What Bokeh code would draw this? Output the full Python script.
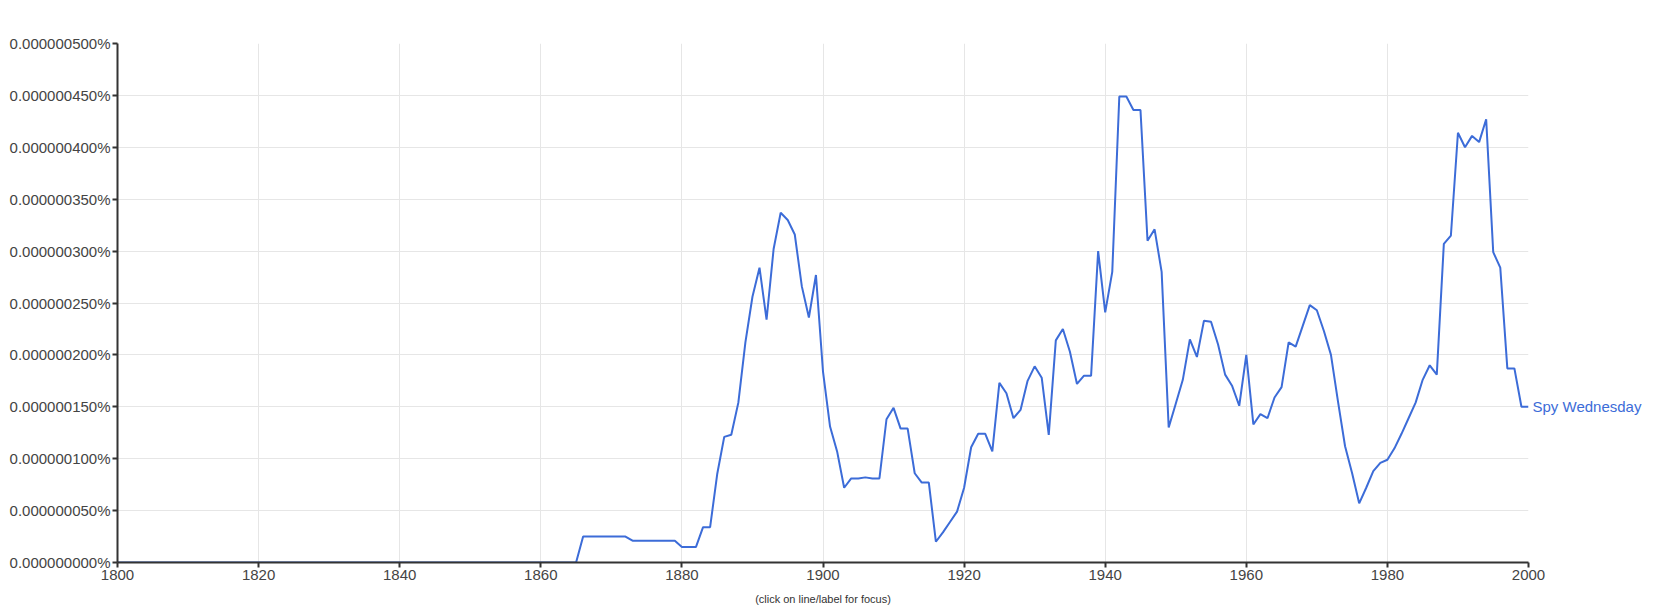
import json
from bokeh.plotting import figure
from bokeh.embed import file_html
from bokeh.resources import INLINE
from bokeh.models import CustomJSTickFormatter, FixedTicker, Title, Range1d, LinearAxis

series_name = "Spy Wednesday"

years = list(range(1800, 2001))

# values in units of 1e-9 percent (e.g. 450 -> 0.000000450%)
v_1800_1865 = [0] * 66
v_1866_1899 = [25, 25, 25, 25, 25, 25, 25, 21, 21, 21, 21, 21, 21, 21,
               15, 15, 15, 34, 34, 85, 121, 123, 154, 212, 256, 284, 234,
               302, 337, 330, 316, 266, 236, 277]
v_1900_1943 = [184, 131, 107, 72, 81, 81, 82, 81, 81, 138, 149, 129, 129,
               86, 77, 77, 20, 29, 39, 49, 72, 111, 124, 124, 107, 173, 163,
               139, 147, 175, 189, 178, 123, 214, 225, 203, 172, 180, 180,
               300, 241, 280, 449, 449]
v_1944_2000 = [436, 436, 310, 321, 280, 130, 153, 176, 215, 198, 233, 232,
               210, 181, 170, 151, 200, 133, 143, 139, 159, 169, 212, 208,
               228, 248, 243, 223, 200, 155, 112, 86, 57, 72, 88, 96, 99,
               110, 124, 139, 154, 176, 190, 181, 307, 315, 414, 400, 411,
               405, 427, 299, 284, 187, 187, 150, 150]

units = v_1800_1865 + v_1866_1899 + v_1900_1943 + v_1944_2000
values = [u * 1e-9 for u in units]  # percent

y_ticks = [i * 5e-8 for i in range(11)]
x_ticks = [1800, 1820, 1840, 1860, 1880, 1900, 1920, 1940, 1960, 1980, 2000]
footer = "(click on line/label for focus)"

LINE = "#3c6cd8"
TXT = "#444444"
FONT = "Liberation Sans"

p = figure(frame_width=1411, frame_height=519, output_backend="svg",
           toolbar_location=None,
           x_range=Range1d(1800, 2000), y_range=Range1d(0, 5e-7))
p.min_border_left = 117
p.min_border_right = 116
p.min_border_top = 43
p.min_border_bottom = 54
p.outline_line_color = None
p.background_fill_color = "white"
p.border_fill_color = "white"

p.line(years, values, line_color=LINE, line_width=2)

p.xaxis.ticker = FixedTicker(ticks=x_ticks)
p.yaxis.ticker = FixedTicker(ticks=y_ticks)
p.yaxis.formatter = CustomJSTickFormatter(code="return tick.toFixed(9) + '%';")
p.xaxis.formatter = CustomJSTickFormatter(code="return tick.toFixed(0);")
for ax in (p.xaxis, p.yaxis):
    ax.axis_line_color = "#333333"
    ax.axis_line_width = 2
    ax.major_tick_line_color = "#333333"
    ax.major_tick_line_width = 2
    ax.major_tick_out = 5
    ax.major_tick_in = 0
    ax.minor_tick_line_color = None
    ax.major_label_text_font = FONT
    ax.major_label_text_font_size = "15px"
    ax.major_label_text_color = TXT
p.yaxis.major_label_standoff = 2
p.xaxis.major_label_standoff = 2

p.xgrid.grid_line_color = "#e6e6e6"
p.ygrid.grid_line_color = "#e6e6e6"
p.xgrid.ticker = FixedTicker(ticks=x_ticks)
p.ygrid.ticker = FixedTicker(ticks=y_ticks)

# series name label at the end of the line (right side axis with one tick)
name_axis = LinearAxis(
    ticker=FixedTicker(ticks=[values[-1]]),
    formatter=CustomJSTickFormatter(code="return " + json.dumps(series_name) + ";"),
    axis_line_color=None, major_tick_line_color=None, minor_tick_line_color=None,
    major_tick_out=0, major_tick_in=0,
    major_label_standoff=4, major_label_text_color=LINE,
    major_label_text_font=FONT, major_label_text_font_size="15px")
p.add_layout(name_axis, "right")

p.add_layout(Title(text=footer, align="center", text_font=FONT,
                   text_font_size="11px", text_color="#333333",
                   text_font_style="normal", standoff=16), "below")

open("out.html", "w").write(file_html(p, INLINE))
